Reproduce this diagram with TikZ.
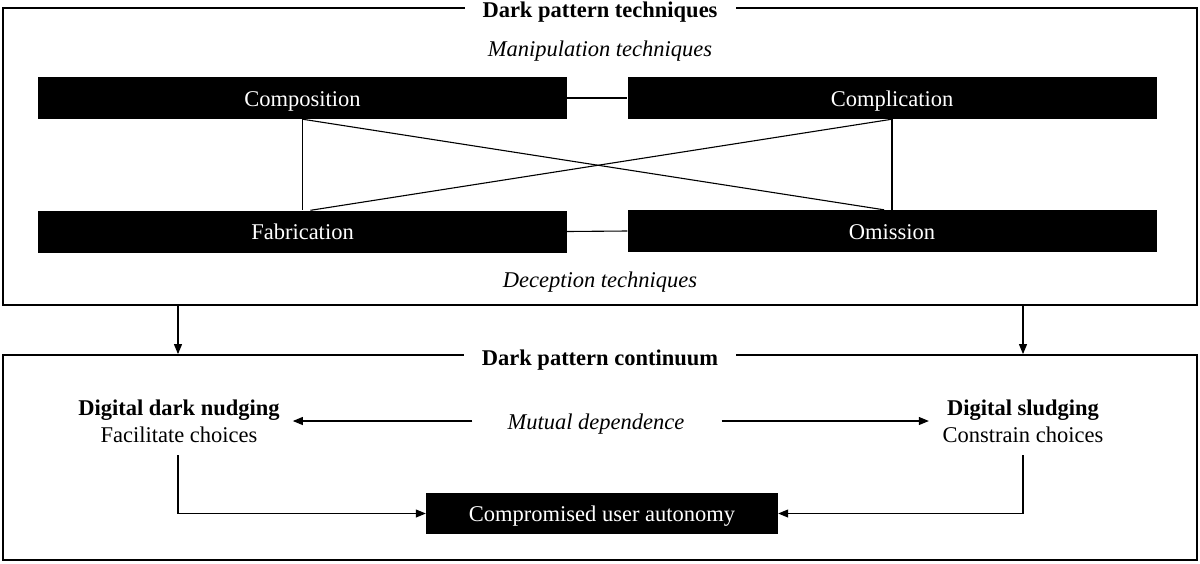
\documentclass[tikz,border=0pt]{standalone}
\usepackage{fontspec}
\setmainfont{Liberation Serif}
\usetikzlibrary{arrows.meta}
\begin{document}
\begin{tikzpicture}[x=1pt,y=-1pt,
  every node/.style={font=\fontsize{22.5}{27}\selectfont, inner sep=0pt, text height=16pt, text depth=0pt},
  frame/.style={draw, line width=1.8pt, inner sep=0pt, text height=, text depth=},
  blackbox/.style={fill=black, text=white, minimum width=529pt, minimum height=42pt},
  title/.style={fill=white, inner xsep=18pt, inner ysep=0pt, font=\fontsize{22.5}{27}\selectfont\bfseries},
  itl/.style={font=\fontsize{22.5}{27}\selectfont\itshape},
  bld/.style={font=\fontsize{22.5}{27}\selectfont\bfseries},
  conn/.style={line width=1.1pt},
  arr/.style={line width=1.1pt, -{Triangle[length=10pt,width=8pt]}}]
\useasboundingbox (0,0) rectangle (1200,563);
% frames
\node[frame, minimum width=1194pt, minimum height=297pt] (techbox) at (600,156.5) {};
\node[frame, minimum width=1194pt, minimum height=205pt] (contbox) at (600,457.5) {};
\node[title] (techtitle) at (600,9) {Dark pattern techniques};
\node[title] (conttitle) at (600,357) {Dark pattern continuum};
% upper content
\node[itl] (manip) at (600,48) {Manipulation techniques};
\node[itl] (decep) at (600,279) {Deception techniques};
\node[blackbox] (compo) at (302.5,98) {Composition};
\node[blackbox] (compl) at (892,98) {Complication};
\node[blackbox] (fabr) at (302.5,231.5) {Fabrication};
\node[blackbox] (omis) at (892,231) {Omission};
\draw[conn] (compo.east) -- (compl.west);
\draw[conn] (fabr.east) -- (omis.west);
\draw[conn] (compo.south) -- (fabr.north);
\draw[conn] (compl.south) -- (omis.north);
\draw[conn] (compo.south) -- ([xshift=-8pt]omis.north);
\draw[conn] (compl.south) -- ([xshift=8pt]fabr.north);
% lower content
\node[bld] (nudgeT) at (179,407) {Digital dark nudging};
\node (nudgeS) at (179,434) {Facilitate choices};
\node[bld] (sludgeT) at (1023,407) {Digital sludging};
\node (sludgeS) at (1023,434) {Constrain choices};
\node[itl] (mutual) at (596,421) {Mutual dependence};
\node[fill=black, text=white, minimum width=352pt, minimum height=41pt] (cua) at (602,513.5) {Compromised user autonomy};
\coordinate (ta) at (178,305);
\coordinate (tb) at (1023,305);
\coordinate (na) at (178,455);
\coordinate (sa) at (1023,455);
\draw[arr] (ta) -- (ta |- contbox.north);
\draw[arr] (tb) -- (tb |- contbox.north);
\draw[arr] ([xshift=-35pt]mutual.west) -- ([xshift=13pt]mutual.west -| nudgeT.east);
\draw[arr] ([xshift=37pt]mutual.east) -- ([xshift=-18pt]mutual.east -| sludgeT.west);
\draw[arr] (na) |- (cua.west);
\draw[arr] (sa) |- (cua.east);
\end{tikzpicture}
\end{document}
